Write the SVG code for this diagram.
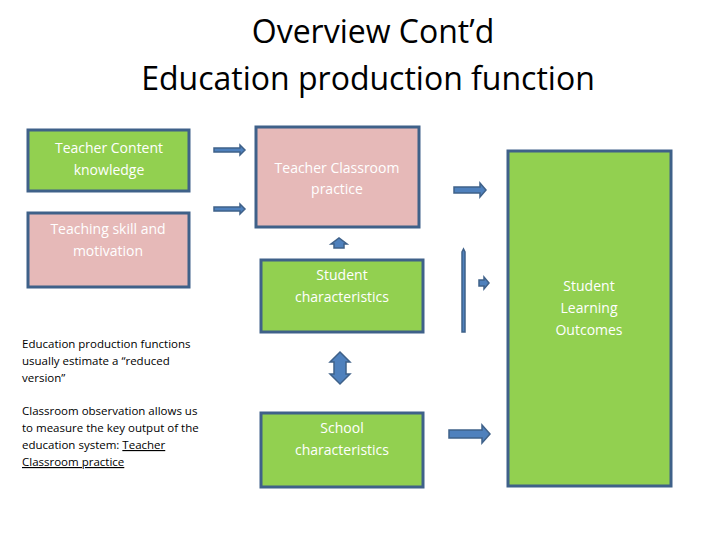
<svg xmlns="http://www.w3.org/2000/svg" width="720" height="540" viewBox="0 0 720 540">
<defs><style>
.g{fill:#92d050;stroke:#3f6189;stroke-width:3}
.p{fill:#e6b9b8;stroke:#3f6189;stroke-width:3}
.w{font-family:"Open Sans","Liberation Sans",sans-serif;font-size:14px;font-weight:normal;fill:#fff;text-anchor:middle}
.b{font-family:"Open Sans","Liberation Sans",sans-serif;font-size:11.5px;fill:#000}
.t{font-family:"Open Sans","Liberation Sans",sans-serif;font-size:32px;fill:#000;text-anchor:middle}
.a{fill:#4f81bd;stroke:#3f6189;stroke-width:1.5}
</style></defs>
<rect width="720" height="540" fill="#fff"/>
<text class="t" x="373" y="43">Overview Cont’d</text>
<text class="t" x="368" y="90">Education production function</text>
<g id="n1"><rect class="g" x="28" y="130" width="161" height="61"/><text class="w" x="109" y="153">Teacher Content</text><text class="w" x="109" y="175">knowledge</text></g>
<g id="n2"><rect class="p" x="28" y="213" width="161" height="74"/><text class="w" x="108" y="234">Teaching skill and</text><text class="w" x="108" y="256">motivation</text></g>
<g id="n3"><rect class="p" x="256" y="127" width="163" height="100"/><text class="w" x="337" y="173">Teacher Classroom</text><text class="w" x="337" y="194">practice</text></g>
<g id="n4"><rect class="g" x="261" y="260" width="162" height="72"/><text class="w" x="342" y="280">Student</text><text class="w" x="342" y="302">characteristics</text></g>
<g id="n5"><rect class="g" x="261" y="413" width="162" height="74"/><text class="w" x="342" y="433">School</text><text class="w" x="342" y="455">characteristics</text></g>
<g id="n6"><rect class="g" x="508" y="151" width="163" height="335"/><text class="w" x="589" y="291">Student</text><text class="w" x="589" y="313">Learning</text><text class="w" x="589" y="335">Outcomes</text></g>
<g id="notes">
<text class="b" x="22" y="348">Education production functions</text>
<text class="b" x="22" y="365">usually estimate a “reduced</text>
<text class="b" x="22" y="382">version”</text>
<text class="b" x="22" y="415">Classroom observation allows us</text>
<text class="b" x="22" y="432">to measure the key output of the</text>
<text class="b" x="22" y="449">education system: <tspan text-decoration="underline">Teacher</tspan></text>
<text class="b" x="22" y="466" text-decoration="underline">Classroom practice</text>
</g>
<g id="connectors">
<path class="a" d="M214 148h26v-3l5 5-5 5v-3h-26z"/>
<path class="a" d="M214 207h26v-3l5 5-5 5v-3h-26z"/>
<path class="a" d="M454 187h26v-4l6 7-6 7v-4h-26z"/>
<path class="a" d="M449 430h33v-5l8 9-8 9v-5h-33z"/>
<path class="a" d="M479 280h5v-3l5 6-5 6v-3h-5z"/>
<path class="a" d="M334 248v-4h-3l8-6 8 6h-3v4z"/>
<path class="a" d="M462 332v-80l1.5-3 1.5 3v80z"/>
<path class="a" d="M340 352l10 10h-4v12h4l-10 10-10-10h4v-12h-4z"/>
</g>
</svg>
